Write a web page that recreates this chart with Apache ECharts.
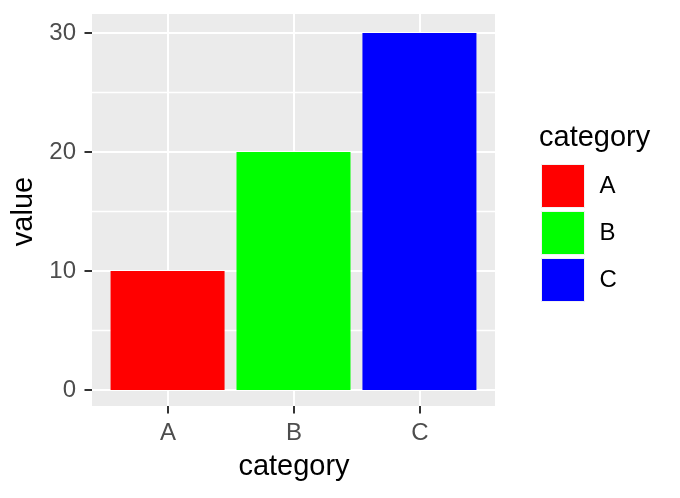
<!DOCTYPE html>
<html>
<head>
<meta charset="utf-8">
<script src="https://cdn.jsdelivr.net/npm/echarts@6/dist/echarts.min.js"></script>
<style>
html,body{margin:0;padding:0;background:#fff;}
#c{width:680px;height:498px;}
</style>
</head>
<body>
<div id="c"></div>
<script>
var categories = ['A', 'B', 'C'];
var values = [10, 20, 30];
var colors = ['#FF0000', '#00FF00', '#0000FF'];
var yTicks = [0, 10, 20, 30];

var FONT = 'Liberation Sans, Arial, sans-serif';
var chart = echarts.init(document.getElementById('c'));

var series = categories.map(function (cat, i) {
  return {
    name: cat,
    type: 'bar',
    xAxisIndex: 1,
    yAxisIndex: 1,
    data: [[i + 1, values[i]]],
    barWidth: 114,
    barGap: '-100%',
    itemStyle: { color: colors[i] },
    z: 5,
    silent: true
  };
});

var option = {
  animation: false,
  backgroundColor: '#ffffff',
  title: {
    text: 'category',
    left: 539,
    top: 123,
    padding: 0,
    textStyle: { fontFamily: FONT, fontSize: 29, fontWeight: 'normal', color: '#000' }
  },
  legend: {
    orient: 'vertical',
    left: 541,
    top: 164,
    padding: 0,
    itemWidth: 43,
    itemHeight: 43,
    itemGap: 3,
    icon: 'rect',
    data: categories,
    textStyle: { fontFamily: FONT, fontSize: 24, color: '#000', padding: [0, 0, 0, 10] },
    itemStyle: { borderColor: '#f2f2f2', borderWidth: 1 },
    selectedMode: false
  },
  grid: [
    { left: 92, top: 14, width: 403, height: 392, show: true, backgroundColor: '#EBEBEB', borderWidth: 0, z: 0 },
    { left: 92, top: 33, width: 403, height: 357, show: false },
    { left: 168, top: 14, width: 252, height: 392, show: false }
  ],
  xAxis: [
    { gridIndex: 0, type: 'value', show: false, min: 0, max: 1 },
    { gridIndex: 1, type: 'value', show: false, min: 0.4, max: 3.6 },
    {
      gridIndex: 2, type: 'category', data: categories, boundaryGap: false, z: 1,
      axisLine: { show: false },
      axisTick: { show: true, length: 7.5, lineStyle: { color: '#333333', width: 2 } },
      axisLabel: { fontFamily: FONT, fontSize: 24, color: '#4D4D4D', margin: 15 },
      splitLine: { show: true, lineStyle: { color: '#ffffff', width: 2 } },
      name: 'category', nameLocation: 'middle', nameGap: 46,
      nameTextStyle: { fontFamily: FONT, fontSize: 29, color: '#000' }
    }
  ],
  yAxis: [
    { gridIndex: 0, type: 'value', show: false, min: 0, max: 1 },
    {
      gridIndex: 1, type: 'value', min: yTicks[0], max: yTicks[yTicks.length - 1], interval: 10, z: 1,
      axisLine: { show: false },
      axisTick: { show: true, length: 7.5, lineStyle: { color: '#333333', width: 2 } },
      axisLabel: { fontFamily: FONT, fontSize: 24, color: '#4D4D4D', margin: 16 },
      splitLine: { show: true, lineStyle: { color: '#ffffff', width: 2 } },
      minorTick: { show: false, splitNumber: 2 },
      minorSplitLine: { show: true, lineStyle: { color: '#ffffff', width: 1.3 } },
      name: 'value', nameLocation: 'middle', nameGap: 42, nameRotate: 90,
      nameTextStyle: { fontFamily: FONT, fontSize: 29, color: '#000' }
    },
    { gridIndex: 2, type: 'value', show: false, min: 0, max: 1 }
  ],
  series: series
};
chart.setOption(option);
</script>
</body>
</html>
